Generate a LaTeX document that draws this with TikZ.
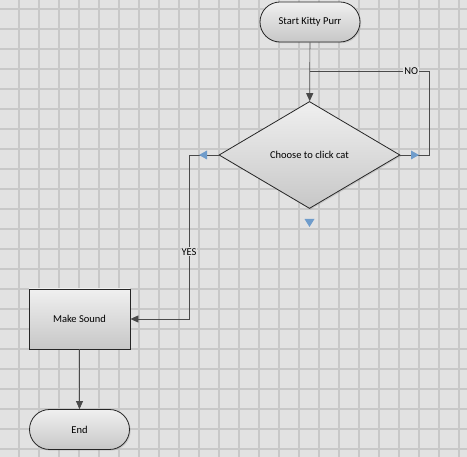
\documentclass[tikz,border=0pt]{standalone}
\usepackage{fontspec}
\setmainfont{Carlito}
\usetikzlibrary{arrows.meta,shapes.geometric,shadows}

\definecolor{paper}{HTML}{E2E2E2}
\definecolor{gridline}{HTML}{C8C8C8}
\definecolor{handle}{HTML}{6F9CCB}
\definecolor{wire}{HTML}{4A4A4A}

\begin{document}
\begin{tikzpicture}[x=1pt, y=-1pt,
	font=\fontsize{10.5}{12}\selectfont,
	shapebase/.style={draw=black!85, line width=0.8pt, top color=white!94!black,
		bottom color=black!22, drop shadow={shadow xshift=1.2pt, shadow yshift=-1.2pt, opacity=0.25}},
	terminal/.style={shapebase, rounded corners=20pt, minimum width=100pt, minimum height=40pt},
	process/.style={shapebase, minimum width=101pt, minimum height=60pt},
	decision/.style={shapebase, diamond, inner sep=0pt, minimum width=181pt, minimum height=107pt},
	link/.style={draw=wire, line width=0.7pt},
	flow/.style={link, -{Triangle[length=8pt, width=7pt]}},
	tag/.style={fill=paper, inner sep=1pt}]
	\useasboundingbox (0,0) rectangle (467,457);
	\fill[paper] (0,0) rectangle (467,457);
	% grid
	\foreach \gx in {19,39,...,459}
		\draw[gridline, line width=1.2pt] (\gx,0) -- (\gx,457);
	\foreach \gy in {9,29,...,449}
		\draw[gridline, line width=1.2pt] (0,\gy) -- (467,\gy);

	\node[terminal] (start) at (310,22) {Start Kitty Purr};
	\node[decision] (choose) at (309.5,155) {Choose to click cat};
	\node[process] (sound) at (79.5,319) {Make Sound};
	\node[terminal] (stop) at (79.5,429.5) {End};

	\coordinate (noright) at (429,155);
	\coordinate (nocorner) at (429,71);
	\coordinate (nojoin) at (310,71);
	\coordinate (yesleft) at (189,155);
	\coordinate (yescorner) at (189,319);

	\draw[flow] (start) -- (choose);
	\draw[link] (choose.east) -- (noright) -- (nocorner) -- node[tag, pos=0.15] {NO} (nojoin);
	\draw[flow] (choose.west) -- (yesleft) -- node[tag, pos=0.59] {YES} (yescorner) -- (sound.east);
	\draw[flow] (sound) -- (stop);

	% connection handles
	\fill[handle] (199,155) -- (207,150.5) -- (207,159.5) -- cycle;
	\fill[handle] (419,155) -- (411,150.5) -- (411,159.5) -- cycle;
	\fill[handle] (309.5,227) -- (304.5,219) -- (314.5,219) -- cycle;
\end{tikzpicture}
\end{document}
